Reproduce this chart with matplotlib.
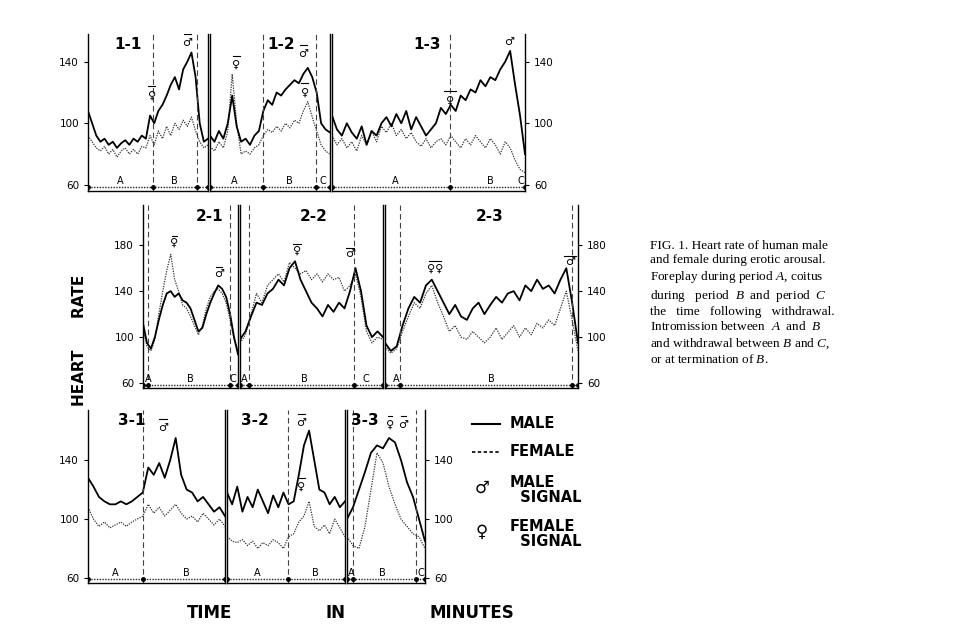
import numpy as np
import matplotlib
matplotlib.use("Agg")
import matplotlib.pyplot as plt

plt.rcParams["mathtext.fontset"] = "custom"
plt.rcParams["mathtext.it"] = "Liberation Serif:italic"
plt.rcParams["mathtext.rm"] = "Liberation Serif"

# ---- data (heart rate) ----
M11 = [108,100,92,88,90,86,88,84,87,89,86,90,88,92,90,105,100,108,112,118,125,130,122,135,140,146,130,100,88,90]
F11 = [92,88,84,82,85,80,83,78,82,84,80,83,80,85,84,92,86,95,90,98,92,100,96,102,98,104,95,88,84,86]
M12 = [92,88,95,90,100,118,98,88,90,86,92,95,108,115,112,120,118,122,125,128,126,132,136,130,120,100,96,94]
F12 = [85,82,88,84,95,132,100,80,82,80,84,86,92,96,94,98,95,100,97,102,100,108,114,104,95,86,82,80]
M13 = [105,96,92,100,94,90,98,86,95,92,100,104,98,106,100,108,96,104,98,92,96,100,110,106,112,108,118,115,122,120,128,124,130,128,135,140,147,125,105,80]
F13 = [92,86,90,84,88,82,92,86,95,88,98,94,100,92,96,90,94,88,85,90,84,88,90,86,92,88,84,90,86,92,88,84,90,86,80,88,84,76,70,68]
M21 = [112,95,90,100,115,128,138,140,135,138,132,130,125,115,105,108,120,130,138,145,142,135,120,100,85]
F21 = [108,92,88,98,120,140,158,172,150,140,128,125,118,110,102,110,125,135,140,142,138,130,115,98,88]
M22 = [98,105,118,130,128,138,142,150,145,160,166,150,140,130,125,118,128,122,130,125,140,160,140,110,100,105,100]
F22 = [95,102,120,138,130,145,150,155,148,165,160,155,158,150,155,148,155,150,152,140,145,155,135,105,95,100,98]
M23 = [95,88,92,110,125,135,130,145,150,140,130,120,128,118,115,125,130,120,128,135,130,138,140,132,145,140,150,142,145,138,150,160,130,95]
F23 = [92,86,90,105,118,130,125,138,145,130,118,105,110,100,98,105,100,95,100,108,98,104,110,100,108,102,112,108,115,110,125,140,115,88]
M31 = [128,122,115,112,110,110,112,110,112,115,118,135,130,138,128,140,155,130,120,118,112,115,110,105,108,102]
F31 = [108,100,95,98,94,96,98,95,98,100,102,110,104,108,102,106,110,104,100,102,98,104,100,96,100,95]
M32 = [118,110,122,105,115,108,120,112,104,116,108,118,110,112,130,150,160,140,120,118,110,115,108,112]
F32 = [88,85,84,86,82,85,80,84,82,86,84,80,88,90,98,102,112,95,92,96,90,100,94,88]
M33 = [100,108,120,132,145,150,148,155,152,140,125,115,100,85]
F33 = [88,82,80,95,120,145,138,122,110,100,95,90,88,80]

TICKS1 = [60, 100, 140]
TICKS2 = [60, 100, 140, 180]
TICKS3 = [60, 100, 140]

W, H = 980, 639
fig = plt.figure(figsize=(9.8, 6.39), dpi=100)

def ax_at(x0, x1, y0, y1):
    return fig.add_axes([x0 / W, 1 - y1 / H, (x1 - x0) / W, (y1 - y0) / H])

panels = [
    ("1-1", 88, 208, 34, 191, (56, 158), M11, F11, [0.54, 0.91], [("A", 0.27), ("B", 0.72)], "left", 0.22, [("♂", 0.83, 152), ("♀", 0.53, 118)]),
    ("1-2", 210, 330, 34, 191, (56, 158), M12, F12, [0.44, 0.88], [("A", 0.2), ("B", 0.66), ("C", 0.94)], None, 0.48, [("♀", 0.22, 138), ("♂", 0.78, 145), ("♀", 0.79, 120)]),
    ("1-3", 332, 525, 34, 191, (56, 158), M13, F13, [0.61], [("A", 0.33), ("B", 0.82), ("C", 0.98)], "right", 0.42, [("♀", 0.61, 115), ("♂", 0.92, 153)]),
    ("2-1", 143, 238, 205, 388, (55.7, 215), M21, F21, [0.05, 0.92], [("A", 0.06), ("B", 0.5), ("C", 0.95)], "left", 0.55, [("♀", 0.33, 182), ("♂", 0.8, 155)]),
    ("2-2", 240, 383, 205, 388, (55.7, 215), M22, F22, [0.06, 0.8], [("A", 0.03), ("B", 0.45), ("C", 0.88)], None, 0.42, [("♀", 0.4, 175), ("♂", 0.77, 172)]),
    ("2-3", 385, 578, 205, 388, (55.7, 215), M23, F23, [0.08, 0.97], [("A", 0.06), ("B", 0.55)], "right", 0.47, [("♀♀", 0.26, 160), ("♂", 0.96, 165)]),
    ("3-1", 88, 225, 410, 583, (56.6, 174), M31, F31, [0.4], [("A", 0.2), ("B", 0.72)], "left", 0.22, [("♂", 0.55, 162)]),
    ("3-2", 227, 345, 410, 583, (56.6, 174), M32, F32, [0.52], [("A", 0.26), ("B", 0.75)], None, 0.12, [("♂", 0.63, 165), ("♀", 0.63, 122)]),
    ("3-3", 347, 425, 410, 583, (56.6, 174), M33, F33, [0.08, 0.88], [("A", 0.05), ("B", 0.45), ("C", 0.95)], "right", 0.05, [("♀", 0.55, 164), ("♂", 0.72, 164)]),
]

for name, x0, x1, y0, y1, yl, male, female, dashes, phases, side, tpos, sigs in panels:
    ax = ax_at(x0, x1, y0, y1)
    xm = np.linspace(0, 1, len(male))
    xf = np.linspace(0, 1, len(female))
    ax.plot(xf, female, color="#333", lw=0.9, ls=(0, (1, 1)))
    ax.plot(xm, male, color="black", lw=1.3)
    for d in dashes:
        ax.axvline(d, color="#444", lw=0.8, ls=(0, (5, 3)))
    base = yl[0] + 2.5
    ax.plot([0, 1], [base, base], color="#222", lw=1.0, ls=(0, (1, 1)))
    ax.plot([0] + dashes + [1], [base] * (len(dashes) + 2), "o", color="black", ms=2.5)
    for lab, px in phases:
        ax.text(px, base + 1, lab, ha="center", va="bottom", fontsize=7)
    for s, px, py in sigs:
        ax.text(px, py, s, ha="center", va="center", fontsize=8, fontweight="bold")
        ax.plot([px - 0.03, px + 0.03], [py + 6, py + 6], color="black", lw=0.8)
    ax.set_xlim(0, 1)
    ax.set_ylim(*yl)
    ax.set_xticks([])
    ticks = TICKS2 if name.startswith("2") else (TICKS1 if name.startswith("1") else TICKS3)
    ax.set_yticks(ticks)
    if side == "left":
        ax.tick_params(axis="y", left=True, right=False, labelleft=True, labelsize=7.5, length=3)
    elif side == "right":
        ax.tick_params(axis="y", left=False, right=True, labelleft=False, labelright=True, labelsize=7.5, length=3)
    else:
        ax.tick_params(axis="y", left=False, labelleft=False)
    for sp in ax.spines.values():
        sp.set_linewidth(1.0)
    ax.spines["top"].set_visible(False)
    ax.text(tpos, 0.98, name, transform=ax.transAxes, ha="left", va="top", fontsize=11, fontweight="bold")

fig.text(80 / W, 1 - 340 / H, "HEART      RATE", rotation=90, ha="center", va="center",
         fontsize=11, fontweight="bold")
fig.text(210 / W, 1 - 613 / H, "TIME", ha="center", va="center", fontsize=12, fontweight="bold")
fig.text(335 / W, 1 - 613 / H, "IN", ha="center", va="center", fontsize=12, fontweight="bold")
fig.text(472 / W, 1 - 613 / H, "MINUTES", ha="center", va="center", fontsize=12, fontweight="bold")

lax = fig.add_axes([0, 0, 1, 1], facecolor="none")
lax.set_xlim(0, W); lax.set_ylim(H, 0); lax.axis("off")
lax.plot([472, 500], [424, 424], color="black", lw=1.5)
lax.text(510, 424, "MALE", va="center", fontsize=10.5, fontweight="bold")
lax.plot([472, 500], [452, 452], color="black", lw=1.2, ls=(0, (2, 1.5)))
lax.text(510, 452, "FEMALE", va="center", fontsize=10.5, fontweight="bold")
lax.text(482, 488, "♂", ha="center", va="center", fontsize=12, fontweight="bold")
lax.text(510, 490, "MALE\n  SIGNAL", va="center", fontsize=10.5, fontweight="bold", linespacing=0.95)
lax.text(482, 532, "♀", ha="center", va="center", fontsize=12, fontweight="bold")
lax.text(510, 534, "FEMALE\n  SIGNAL", va="center", fontsize=10.5, fontweight="bold", linespacing=0.95)

caption = ("FIG. 1. Heart rate of human male\n"
           "and female during erotic arousal.\n"
           "Foreplay during period $\\mathit{A}$, coitus\n"
           "during   period  $\\mathit{B}$  and  period  $\\mathit{C}$\n"
           "the   time   following   withdrawal.\n"
           "Intromission between  $\\mathit{A}$  and  $\\mathit{B}$\n"
           "and withdrawal between $\\mathit{B}$ and $\\mathit{C}$,\n"
           "or at termination of $\\mathit{B}$.")
lax.text(650, 240, caption, va="top", ha="left", fontsize=9.5, family="Liberation Serif", linespacing=1.25)

fig.savefig("out.png", dpi=100)
